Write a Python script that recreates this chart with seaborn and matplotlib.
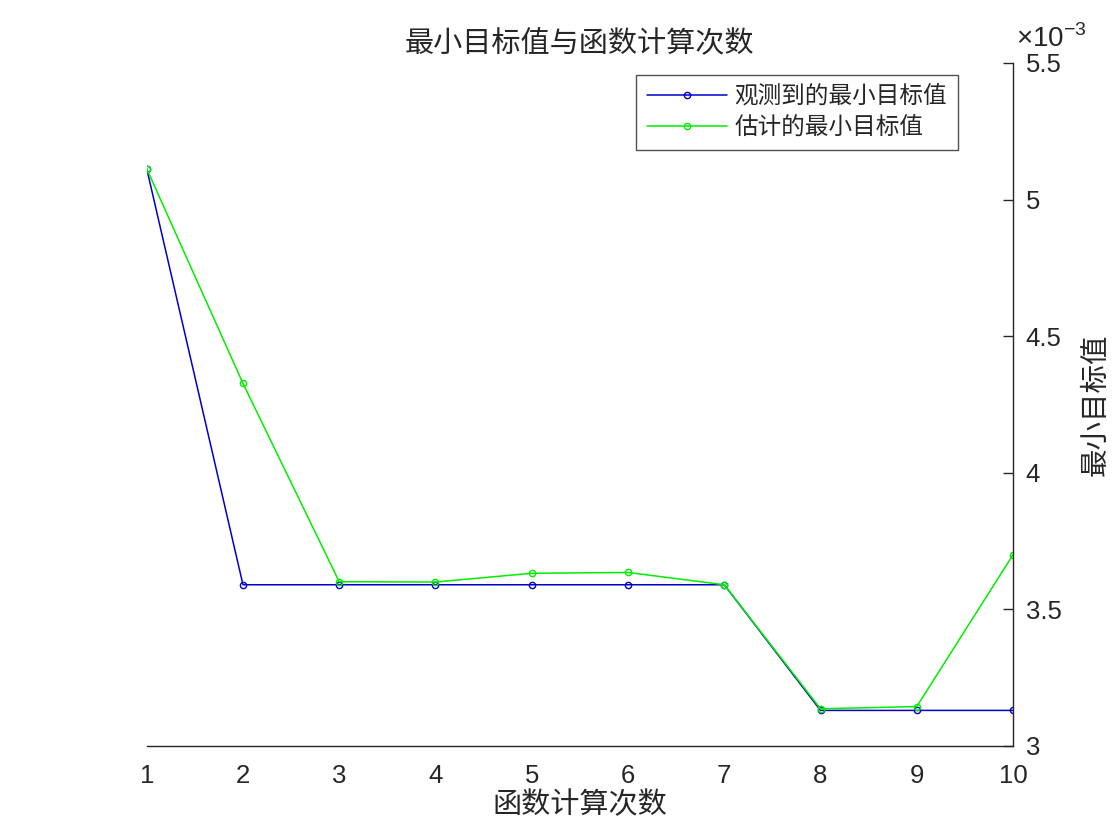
import matplotlib
matplotlib.use("Agg")
import matplotlib.pyplot as plt
import pandas as pd
import seaborn as sns
from matplotlib.ticker import FuncFormatter

# valeurs
evals = [1, 2, 3, 4, 5, 6, 7, 8, 9, 10]
observed = [5.113e-3, 3.590e-3, 3.590e-3, 3.590e-3, 3.590e-3,
            3.590e-3, 3.590e-3, 3.130e-3, 3.130e-3, 3.130e-3]
estimated = [5.113e-3, 4.327e-3, 3.601e-3, 3.600e-3, 3.632e-3,
             3.635e-3, 3.590e-3, 3.136e-3, 3.144e-3, 3.700e-3]
series_names = ["观测到的最小目标值", "估计的最小目标值"]
series_colors = ["#0000cc", "#00ee00"]
yticks = [3e-3, 3.5e-3, 4e-3, 4.5e-3, 5e-3, 5.5e-3]

sns.set_style("white")
plt.rcParams["font.family"] = ["Liberation Sans", "Noto Sans CJK SC", "DejaVu Sans"]
plt.rcParams["mathtext.fontset"] = "custom"
plt.rcParams["mathtext.rm"] = "Liberation Sans"

data = pd.DataFrame({"x": evals * 2,
                     "y": observed + estimated,
                     "serie": [series_names[0]] * 10 + [series_names[1]] * 10})

fig = plt.figure(figsize=(11.2, 8.4), dpi=100)
ax = fig.add_axes([0.131, 0.112, 0.7735, 0.813])

for name, col in zip(series_names, series_colors):
    sub = data[data.serie == name]
    sns.lineplot(data=sub, x="x", y="y", ax=ax, color=col, marker="o",
                 markersize=4.5, markerfacecolor="none", markeredgecolor=col,
                 markeredgewidth=1.0, linewidth=1.1, label=name)

ax.set_xlim(1, 10)
ax.set_ylim(3e-3, 5.5e-3)
ax.set_xticks(range(1, 11))
ax.set_yticks(yticks)

# facteur 10^-3 affiché à part, comme matlab
ax.yaxis.set_major_formatter(FuncFormatter(lambda v, p: "%g" % round(v * 1e3, 3)))
ax.annotate(r"$\times10^{-3}$", xy=(1, 1), xycoords="axes fraction",
            xytext=(2, 7), textcoords="offset points", ha="left", va="bottom",
            fontsize=20, color="#262626")
ax.yaxis.tick_right()
ax.yaxis.set_label_position("right")

for side in ["left", "top"]:
    ax.spines[side].set_visible(False)
for side in ["right", "bottom"]:
    ax.spines[side].set_color("#262626")
    ax.spines[side].set_linewidth(1.0)

ax.tick_params(axis="both", direction="in", length=7, width=1.0,
               colors="#262626", labelsize=18.5)
ax.tick_params(axis="x", pad=13)
ax.tick_params(axis="y", pad=9)

ax.set_title("最小目标值与函数计算次数", fontsize=21, color="#262626", pad=8)
ax.set_xlabel("函数计算次数", fontsize=21, color="#262626", labelpad=2)
ax.set_ylabel("最小目标值", fontsize=20.5, color="#262626", labelpad=16)

leg = ax.legend(loc="upper right", bbox_to_anchor=(0.936, 0.982), fontsize=17,
                frameon=True, fancybox=False, handlelength=3.4, borderaxespad=0,
                borderpad=0.45, labelspacing=0.38, handletextpad=0.3)
leg.get_frame().set_edgecolor("#262626")
leg.get_frame().set_linewidth(1.0)

fig.savefig("out.png", dpi=100)
